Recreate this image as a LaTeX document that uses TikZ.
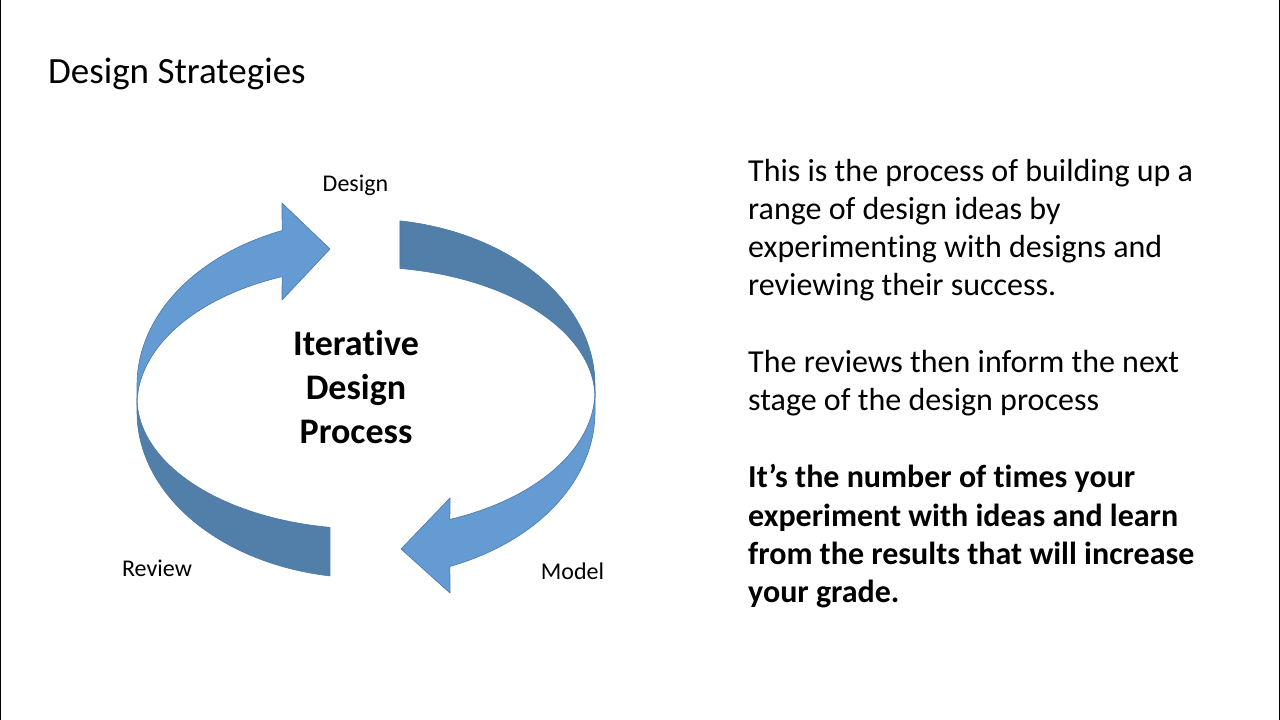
\documentclass[tikz,border=0pt]{standalone}
\usepackage{fontspec}
\setmainfont{Carlito}[Ligatures=NoCommon]
\definecolor{lightblue}{HTML}{659BD3}
\definecolor{darkblue}{HTML}{527FAA}
\definecolor{edgeblue}{HTML}{4A78A8}
\begin{document}
\begin{tikzpicture}[x=1pt,y=-1pt,
  lightarrow/.style={fill=lightblue,draw=edgeblue,line width=0.6pt,line join=round},
  darkband/.style={fill=darkblue,draw=edgeblue,line width=0.6pt,line join=round},
  cyclabel/.style={anchor=base,inner sep=0pt,font=\fontsize{24}{29}\selectfont},
  centertext/.style={anchor=base,inner sep=0pt,font=\fontsize{36}{44}\selectfont\bfseries},
  bodytext/.style={anchor=base west,inner sep=0pt,font=\fontsize{32}{38}\selectfont},
  boldtext/.style={anchor=base west,inner sep=0pt,font=\fontsize{32}{38}\selectfont\bfseries},
  titletext/.style={anchor=base west,inner sep=0pt,font=\fontsize{37}{44}\selectfont}]
\useasboundingbox (0,0) rectangle (1280,720);
\fill[white] (0,0) rectangle (1280,720);
\fill[black] (0,0) rectangle (1.2,720);
\fill[black] (1278.5,0) rectangle (1280,720);

% title
\node[titletext] (title) at (48,83) {Design Strategies};

% dark (back) bands
\draw[darkband] (137,398) -- (137,412)
  -- plot[domain=180:99.05,samples=50,variable=\t] ({366+229*cos(\t)},{412+166*sin(\t)})
  -- plot[domain=99.05:180,samples=50,variable=\t] ({366+229*cos(\t)},{398+131*sin(\t)})
  -- cycle;
\draw[darkband]
  plot[domain=278.53:360,samples=50,variable=\t] ({366+229*cos(\t)},{385+166*sin(\t)})
  -- (595,398)
  -- plot[domain=360:278.53,samples=50,variable=\t] ({366+229*cos(\t)},{398+131*sin(\t)})
  -- cycle;

% light (front) arrows
\draw[lightarrow] (137,405) -- (137,385)
  -- plot[domain=180:248.5,samples=50,variable=\t] ({366+229*cos(\t)},{385+166*sin(\t)})
  -- (282,203) -- (330,249) -- (282,300)
  -- plot[domain=248.5:180,samples=50,variable=\t] ({366+229*cos(\t)},{405+138*sin(\t)})
  -- cycle;
\draw[lightarrow] (595,391) -- (595,412)
  -- plot[domain=0:68.5,samples=50,variable=\t] ({366+229*cos(\t)},{412+166*sin(\t)})
  -- (450,593) -- (401,549) -- (450,498)
  -- plot[domain=68.5:0,samples=50,variable=\t] ({366+229*cos(\t)},{391+138*sin(\t)})
  -- cycle;

% cycle labels
\node[cyclabel] (design) at (355.5,191) {Design};
\node[cyclabel] (model) at (572.5,579.5) {Model};
\node[cyclabel] (review) at (157,576.5) {Review};

% center text
\node[centertext] (c1) at (356,355) {Itera\kern0pt t\kern0pt ive};
\node[centertext] (c2) at (356,399) {Design};
\node[centertext] (c3) at (356,443) {Process};

% right text
\node[bodytext] (p1) at (748,181) {This is the process of building up a};
\node[bodytext] (p2) at (748,219) {range of design ideas by};
\node[bodytext] (p3) at (748,257) {experimen\kern0pt t\kern0pt ing with designs and};
\node[bodytext] (p4) at (748,295) {reviewing their success.};
\node[bodytext] (q1) at (748,372) {The reviews then inform the next};
\node[bodytext] (q2) at (748,410) {stage of the design process};
\node[boldtext] (r1) at (748,487) {It’s the number of t\kern0pt imes your};
\node[boldtext] (r2) at (748,526) {experiment with ideas and learn};
\node[boldtext] (r3) at (748,564) {from the results that will increase};
\node[boldtext] (r4) at (748,602) {your grade.};
\end{tikzpicture}
\end{document}
